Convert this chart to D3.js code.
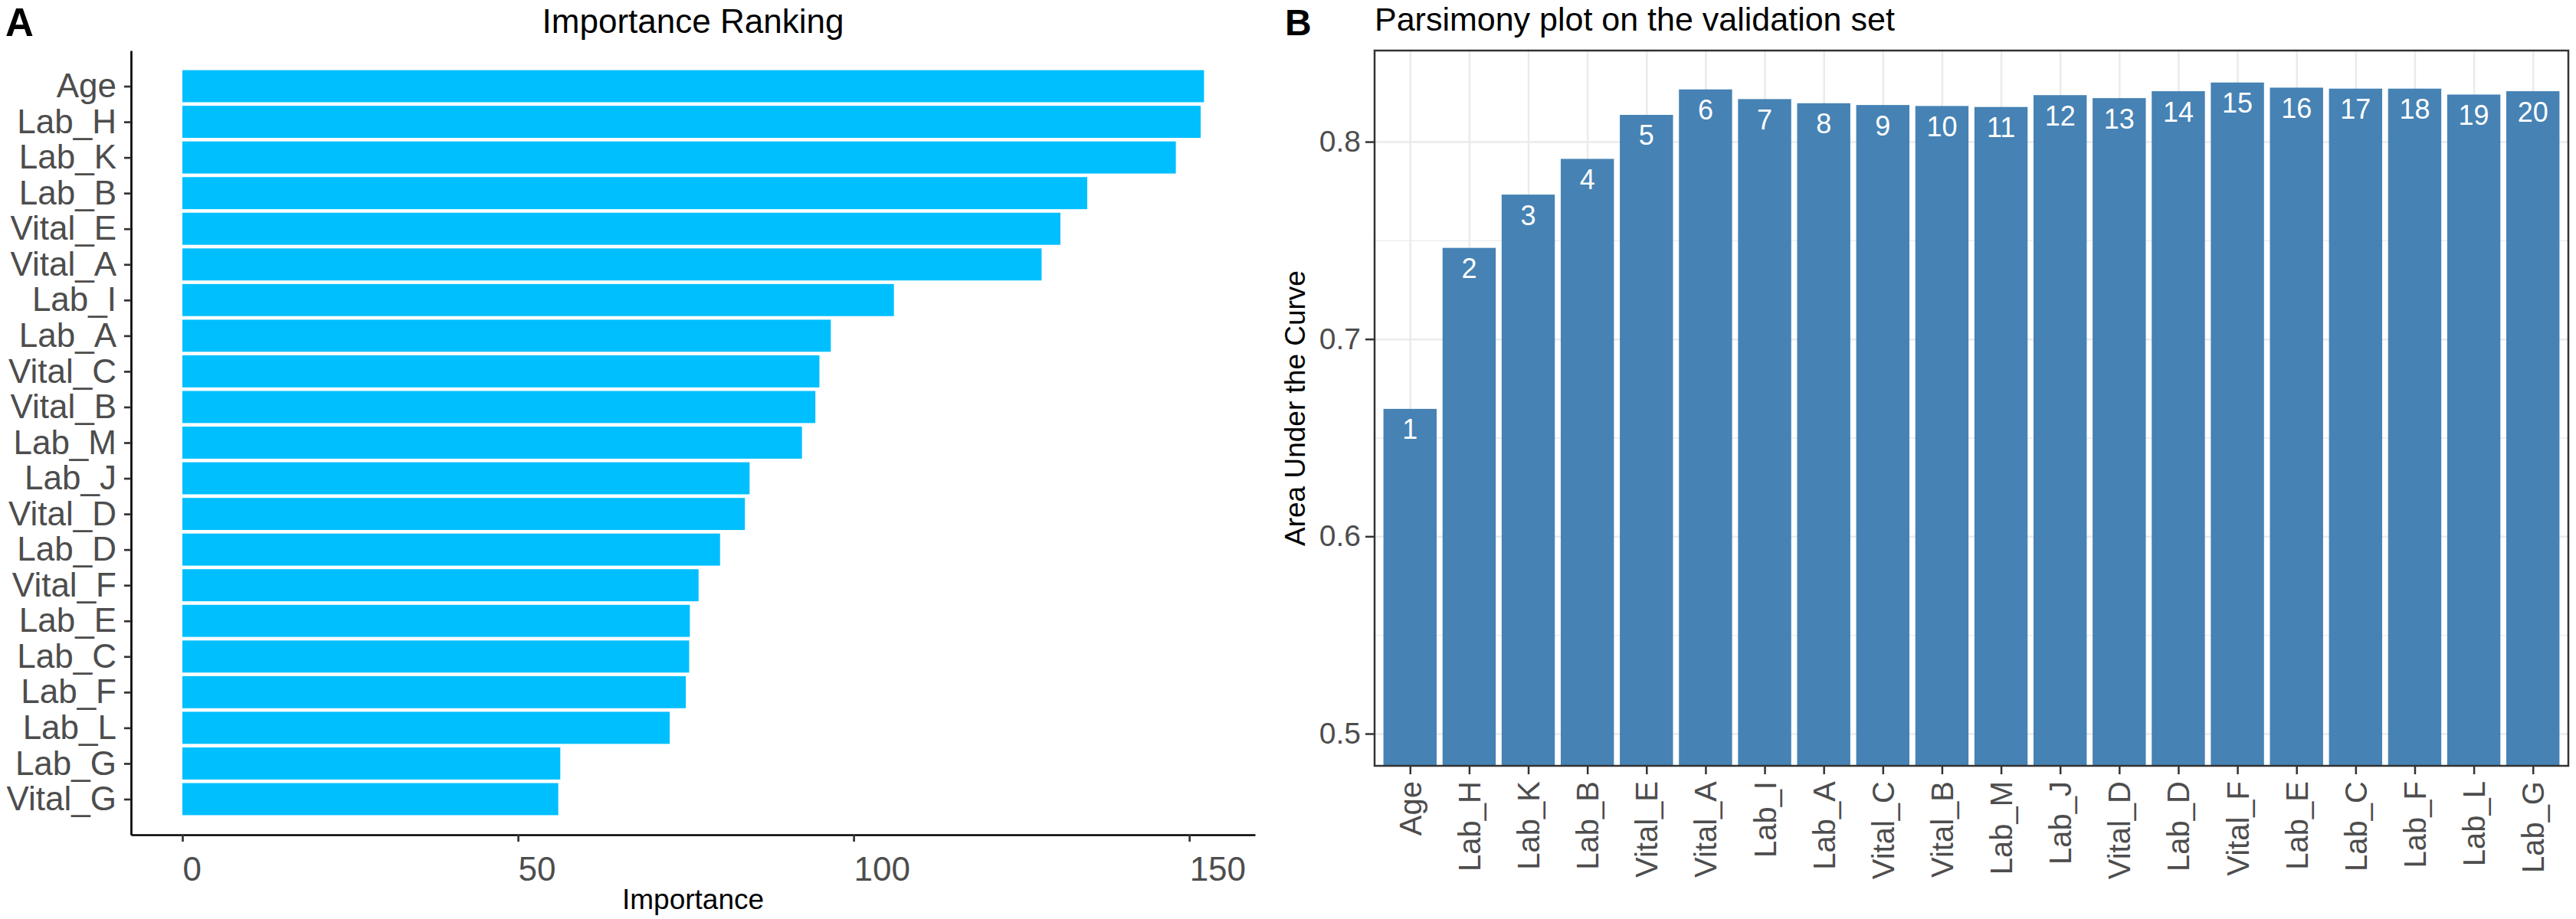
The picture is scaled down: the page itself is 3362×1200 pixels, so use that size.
<!DOCTYPE html>
<meta charset="utf-8">
<style type="text/css">
html, body { margin: 0; background: white; }
svg text { font-family: "Liberation Sans", Arial, sans-serif; }

/* panel A: classic theme */
.axisA path, .axisA line { stroke: black; stroke-width: 2.7; }
.axisA line { stroke: #333333; }
.axisA text { fill: #4D4D4D; font-size: 44px; }

/* panel B: bw theme */
.axisB path { stroke: none; }
.axisB line { stroke: #333333; stroke-width: 2.5; }
.axisB text { fill: #4D4D4D; }
.grid path { stroke-width: 0; }
.grid line { stroke: #EBEBEB; stroke-width: 2.5; }
.grid.minor line { stroke-width: 1.3; }
</style>
<body></body>

<script src="https://d3js.org/d3.v7.min.js"></script>
<script>

// data: importance ranking (panel A)
var featuresA = ["Age", "Lab_H", "Lab_K", "Lab_B", "Vital_E", "Vital_A", "Lab_I", "Lab_A",
  "Vital_C", "Vital_B", "Lab_M", "Lab_J", "Vital_D", "Lab_D", "Vital_F", "Lab_E",
  "Lab_C", "Lab_F", "Lab_L", "Lab_G", "Vital_G"];
var importance = [152.2, 151.7, 148.0, 134.8, 130.8, 128.0, 106.0, 96.6,
  94.9, 94.3, 92.3, 84.5, 83.8, 80.1, 76.9, 75.6,
  75.5, 75.0, 72.6, 56.3, 56.0];
var importanceTicks = [0, 50, 100, 150];

// data: parsimony plot (panel B)
var featuresB = ["Age", "Lab_H", "Lab_K", "Lab_B", "Vital_E", "Vital_A", "Lab_I", "Lab_A",
  "Vital_C", "Vital_B", "Lab_M", "Lab_J", "Vital_D", "Lab_D", "Vital_F", "Lab_E",
  "Lab_C", "Lab_F", "Lab_L", "Lab_G"];
var auc = [0.6646, 0.7462, 0.7732, 0.7913, 0.8136, 0.8265, 0.8216, 0.8195,
  0.8186, 0.8181, 0.8176, 0.8236, 0.8221, 0.8256, 0.8300, 0.8274,
  0.8269, 0.8269, 0.8239, 0.8256];
var aucTicks = [0.5, 0.6, 0.7, 0.8];
var aucMinorTicks = [0.55, 0.65, 0.75];

var svg = d3.select("body").append("svg")
    .attr("width", 3362)
    .attr("height", 1200);

// ---------- Panel A ----------
var a = {left: 171, right: 1638, top: 66, bottom: 1090};

var xA = d3.scaleLinear()
    .domain([-7.65, 159.8])
    .range([a.left, a.right]);

var yA = d3.scalePoint()
    .domain(featuresA)
    .range([a.top, a.bottom])
    .padding(1.0);

var barH = yA.step() * 0.9;

svg.append("g")
  .selectAll("rect")
  .data(importance)
  .enter().append("rect")
    .attr("x", xA(0))
    .attr("y", function(d, i) { return yA(featuresA[i]) - barH / 2; })
    .attr("width", function(d) { return xA(d) - xA(0); })
    .attr("height", barH)
    .attr("fill", "#00BFFF");

var axisAy = svg.append("g")
    .attr("class", "axisA")
    .attr("transform", "translate(" + a.left + ",0)")
    .call(d3.axisLeft(yA).tickSize(9).tickSizeOuter(0).tickPadding(10));

var axisAx = svg.append("g")
    .attr("class", "axisA")
    .attr("transform", "translate(0," + a.bottom + ")")
    .call(d3.axisBottom(xA).tickValues(importanceTicks).tickSize(9).tickSizeOuter(0));
axisAx.selectAll("text")
    .attr("text-anchor", "start")
    .attr("dy", null)
    .attr("y", 60)
    .attr("font-size", "43px");

svg.append("text")
    .attr("x", (a.left + a.right) / 2)
    .attr("y", 1187)
    .attr("text-anchor", "middle")
    .attr("font-size", "37px")
    .text("Importance");

svg.append("text")
    .attr("x", (a.left + a.right) / 2)
    .attr("y", 43)
    .attr("text-anchor", "middle")
    .attr("font-size", "44px")
    .text("Importance Ranking");

svg.append("text")
    .attr("x", 7)
    .attr("y", 47)
    .attr("font-size", "51px")
    .attr("font-weight", "bold")
    .text("A");

// ---------- Panel B ----------
var b = {left: 1794, right: 3352, top: 66, bottom: 1000};

var xB = d3.scalePoint()
    .domain(featuresB)
    .range([b.left, b.right])
    .padding(0.6);

var yB = d3.scaleLinear()
    .domain([0.4837, 0.8462])
    .range([b.bottom, b.top]);

var barW = xB.step() * 0.9;

// gridlines
svg.append("g")
    .attr("class", "grid minor")
    .attr("transform", "translate(" + b.left + ",0)")
    .call(d3.axisLeft(yB).tickValues(aucMinorTicks).tickSize(-(b.right - b.left)).tickFormat(""));
svg.append("g")
    .attr("class", "grid")
    .attr("transform", "translate(" + b.left + ",0)")
    .call(d3.axisLeft(yB).tickValues(aucTicks).tickSize(-(b.right - b.left)).tickFormat(""));
svg.append("g")
    .attr("class", "grid")
    .attr("transform", "translate(0," + b.top + ")")
    .call(d3.axisBottom(xB).tickSize(b.bottom - b.top).tickFormat(""));

svg.append("g")
  .selectAll("rect")
  .data(auc)
  .enter().append("rect")
    .attr("x", function(d, i) { return xB(featuresB[i]) - barW / 2; })
    .attr("y", function(d) { return yB(d); })
    .attr("width", barW)
    .attr("height", function(d) { return b.bottom - yB(d); })
    .attr("fill", "#4682B4");

svg.append("g")
  .selectAll("text")
  .data(auc)
  .enter().append("text")
    .attr("x", function(d, i) { return xB(featuresB[i]); })
    .attr("y", function(d) { return yB(d) + 27; })
    .attr("text-anchor", "middle")
    .attr("dominant-baseline", "central")
    .attr("font-size", "36px")
    .attr("fill", "white")
    .text(function(d, i) { return i + 1; });

svg.append("rect")
    .attr("x", b.left)
    .attr("y", b.top)
    .attr("width", b.right - b.left)
    .attr("height", b.bottom - b.top)
    .attr("fill", "none")
    .attr("stroke", "#333333")
    .attr("stroke-width", 2.5);

var axisBy = svg.append("g")
    .attr("class", "axisB")
    .attr("transform", "translate(" + b.left + ",0)")
    .call(d3.axisLeft(yB).tickValues(aucTicks).tickFormat(d3.format(".1f")).tickSize(12).tickPadding(6));
axisBy.selectAll("text").attr("font-size", "39px");

var axisBx = svg.append("g")
    .attr("class", "axisB")
    .attr("transform", "translate(0," + b.bottom + ")")
    .call(d3.axisBottom(xB).tickSize(11));
axisBx.selectAll("text")
    .attr("font-size", "40px")
    .attr("text-anchor", "end")
    .attr("dominant-baseline", "central")
    .attr("dy", null)
    .attr("y", 0)
    .attr("transform", "translate(0,20) rotate(-90)");

svg.append("text")
    .attr("transform", "translate(1703," + (b.top + b.bottom) / 2 + ") rotate(-90)")
    .attr("text-anchor", "middle")
    .attr("font-size", "37px")
    .text("Area Under the Curve");

svg.append("text")
    .attr("x", b.left)
    .attr("y", 40)
    .attr("font-size", "43px")
    .text("Parsimony plot on the validation set");

svg.append("text")
    .attr("x", 1677)
    .attr("y", 46)
    .attr("font-size", "48px")
    .attr("font-weight", "bold")
    .text("B");

</script>
